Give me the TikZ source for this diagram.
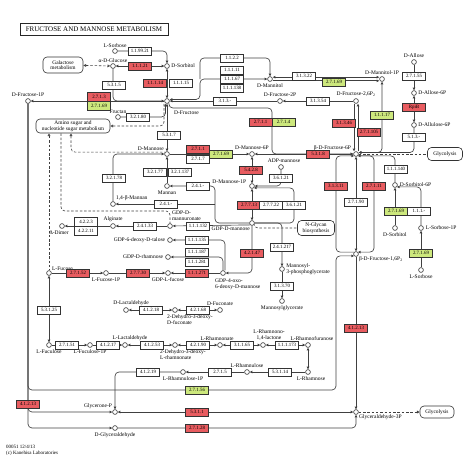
\documentclass[tikz,border=0pt]{standalone}
\usepackage{fontspec}
\setmainfont{Liberation Serif}
\usetikzlibrary{arrows.meta,positioning}
\definecolor{kred}{RGB}{232,92,96}
\definecolor{kgreen}{RGB}{205,232,125}
\pgfdeclarelayer{bg}
\pgfsetlayers{bg,main}
\tikzset{opn/.tip={Triangle[open,length=2.8pt,width=2.8pt]}}

\begin{document}
\begin{tikzpicture}[x=1pt,y=-1pt,
  >={Triangle[length=2.6pt,width=2.4pt]},
  cpd/.style={circle,draw=black!80,fill=white,line width=0.6pt,inner sep=0pt,minimum size=4.8pt},
  enz/.style={draw=black!80,fill=white,line width=0.5pt,inner sep=0pt,minimum width=23pt,minimum height=8.5pt,font=\fontsize{4.9}{5}\selectfont},
  enzr/.style={enz,fill=kred},
  enzg/.style={enz,fill=kgreen},
  lab/.style={inner sep=0pt,font=\fontsize{5.5}{5.9}\selectfont},
  mapbox/.style={draw=black!80,line width=0.6pt,rounded corners=4pt,fill=white,inner sep=1pt,align=center,font=\fontsize{5.4}{5.6}\selectfont},
  rxn/.style={draw=black!75,line width=0.65pt,rounded corners=4pt},
  lnk/.style={draw=black!75,line width=0.6pt,dash pattern=on 2.5pt off 1.8pt,rounded corners=4pt}]
\useasboundingbox (0,0) rectangle (474,459);

\node[draw=black!85,line width=0.9pt,minimum width=148pt,minimum height=12pt,inner sep=0pt,font=\fontsize{7}{7}\selectfont] (ttl) at (94,29) {FRUCTOSE AND MANNOSE METABOLISM};

% maps
\node[mapbox,minimum width=40pt,minimum height=16pt] (galmap) at (63,65) {Galactose\\metabolism};
\node[mapbox,minimum width=74pt,minimum height=14pt] (amino) at (73,126) {Amino sugar and\\nucleotide sugar metabolism};
\node[mapbox,minimum width=35pt,minimum height=13pt] (glyc1) at (445,154) {Glycolysis};
\node[mapbox,minimum width=37pt,minimum height=15pt] (nglyc) at (316,228) {N-Glycan\\biosynthesis};
\node[mapbox,minimum width=34pt,minimum height=12pt] (glyc2) at (437,412) {Glycolysis};

% compounds
\node[cpd] (lsor) at (115,51) {};
\node[cpd] (aglc) at (113,66) {};
\node[cpd] (sorb) at (167,66) {};
\node[cpd] (fru) at (167,101) {};
\node[cpd] (fru1p) at (28,101) {};
\node[cpd] (fructan) at (118,117) {};
\node[cpd] (mtl) at (270,79) {};
\node[cpd] (mtl1p) at (382,79) {};
\node[cpd] (fru2p) at (280,101) {};
\node[cpd] (fru26p) at (356,101) {};
\node[cpd] (allose) at (414,62) {};
\node[cpd] (allose6p) at (414,93) {};
\node[cpd] (allul6p) at (414,125) {};
\node[cpd] (f6p) at (356,154) {};
\node[cpd] (man) at (167,154) {};
\node[cpd] (man6p) at (252,154) {};
\node[cpd] (man1p) at (252,186) {};
\node[cpd] (adpman) at (281,167) {};
\node[cpd] (mannan) at (167,186) {};
\node[cpd] (bmannan) at (113,204) {};
\node[cpd] (gdpman) at (252,223) {};
\node[cpd] (gdpmanu) at (170,226) {};
\node[cpd] (alg) at (113,226) {};
\node[cpd] (dimer) at (62,226) {};
\node[cpd] (gdptal) at (170,240) {};
\node[cpd] (gdprha) at (168,257) {};
\node[cpd] (fuc) at (49,273) {};
\node[cpd] (fuc1p) at (106,273) {};
\node[cpd] (gdplfuc) at (168,273) {};
\node[cpd] (gdp4oxo) at (223,273) {};
\node[cpd] (m3pg) at (282,269) {};
\node[cpd] (mg) at (282,301) {};
\node[cpd] (lactd) at (126,310) {};
\node[cpd] (ddf) at (175,310) {};
\node[cpd] (dfuc) at (220,310) {};
\node[cpd] (fucl) at (49,345) {};
\node[cpd] (fucl1p) at (90,345) {};
\node[cpd] (lactl) at (125,345) {};
\node[cpd] (kdr) at (175,345) {};
\node[cpd] (rhn) at (220,345) {};
\node[cpd] (rhl) at (263,345) {};
\node[cpd] (rhf) at (308,345) {};
\node[cpd] (rha) at (308,372) {};
\node[cpd] (rhu) at (247,372) {};
\node[cpd] (rhu1p) at (183,372) {};
\node[cpd] (glyp) at (115,412) {};
\node[cpd] (dga) at (115,428) {};
\node[cpd] (ga3p) at (356,412) {};
\node[cpd] (f16p) at (356,254) {};
\node[cpd] (sorb6p) at (395,185) {};
\node[cpd] (dsorb) at (395,228) {};
\node[cpd] (lsor1p) at (421,228) {};
\node[cpd] (lsor2) at (421,270) {};

% compound names
\node[lab,above=1pt of lsor] (t_lsor) {L-Sorbose};
\node[lab,above=1pt of aglc] (t_aglc) {α-D-Glucose};
\node[lab,right=1.5pt of sorb] (t_sorb) {D-Sorbitol};
\node[lab,below right=8pt and 5pt of fru] (t_fru) {D-Fructose};
\node[lab,above=1.2pt of fru1p] (t_fru1p) {D-Fructose-1P};
\node[lab,above=1pt of fructan] (t_fructan) {Fructan};
\node[lab,below=1.5pt of mtl] (t_mtl) {D-Mannitol};
\node[lab,above=1.5pt of mtl1p] (t_mtl1p) {D-Mannitol-1P};
\node[lab,above=1.5pt of fru2p] (t_fru2p) {D-Fructose-2P};
\node[lab,above=1.5pt of fru26p] (t_fru26p) {D-Fructose-2,6P\textsubscript{2}};
\node[lab,above=1.2pt of allose] (t_allose) {D-Allose};
\node[lab,right=1.5pt of allose6p] (t_allose6p) {D-Allose-6P};
\node[lab,right=1.5pt of allul6p] (t_allul6p) {D-Allulose-6P};
\node[lab,above left=1.5pt and 3pt of f6p] (t_f6p) {β-D-Fructose-6P};
\node[lab,above left=1pt and 1pt of man] (t_man) {D-Mannose};
\node[lab,above=1.5pt of man6p] (t_man6p) {D-Mannose-6P};
\node[lab,left=3pt of man1p,yshift=4.5pt] (t_man1p) {D-Mannose-1P};
\node[lab,above=1.5pt of adpman,xshift=3pt] (t_adpman) {ADP-mannose};
\node[lab,below=1.5pt of mannan] (t_mannan) {Mannan};
\node[lab,above right=1pt and 1pt of bmannan] (t_bmannan) {1,4-β-Mannan};
\node[lab,below left=2pt and 0pt of gdpman] (t_gdpman) {GDP-D-mannose};
\node[lab,anchor=south west,align=left] (t_gdpmanu) at ([xshift=2pt,yshift=2.5pt]gdpmanu.north) {GDP-D-\\mannuronate};
\node[lab,above=1.2pt of alg] (t_alg) {Alginate};
\node[lab,below=1.5pt of dimer,xshift=-3pt] (t_dimer) {Δ-Dimer};
\node[lab,left=2pt of gdptal] (t_gdptal) {GDP-6-deoxy-D-talose};
\node[lab,left=2pt of gdprha] (t_gdprha) {GDP-D-rhamnose};
\node[lab,above right=0.5pt and 1pt of fuc] (t_fuc) {L-Fucose};
\node[lab,below=1.5pt of fuc1p] (t_fuc1p) {L-Fucose-1P};
\node[lab,below=1.5pt of gdplfuc] (t_gdplfuc) {GDP-L-fucose};
\node[lab,anchor=north west,align=left] (t_gdp4oxo) at ([xshift=-8pt,yshift=-3pt]gdp4oxo.south) {GDP-4-oxo-\\6-deoxy-D-mannose};
\node[lab,right=1.5pt of m3pg,align=left] (t_m3pg) {Mannosyl-\\3-phosphoglycerate};
\node[lab,below=1.5pt of mg] (t_mg) {Mannosylglycerate};
\node[lab,above=1.5pt of lactd,xshift=5pt] (t_lactd) {D-Lactaldehyde};
\node[lab,anchor=north west,align=left] (t_ddf) at ([xshift=-8pt,yshift=-2pt]ddf.south) {2-Dehydro-3-deoxy-\\D-fuconate};
\node[lab,above=1.5pt of dfuc] (t_dfuc) {D-Fuconate};
\node[lab,below=1.5pt of fucl] (t_fucl) {L-Fuculose};
\node[lab,below=1.5pt of fucl1p] (t_fucl1p) {L-Fuculose-1P};
\node[lab,above=1.5pt of lactl,xshift=5pt] (t_lactl) {L-Lactaldehyde};
\node[lab,anchor=north west,align=left] (t_kdr) at ([xshift=-15pt,yshift=-2pt]kdr.south) {2-Dehydro-3-deoxy-\\L-rhamnonate};
\node[lab,above=1.5pt of rhn,xshift=-3pt] (t_rhn) {L-Rhamnonate};
\node[lab,above=1.5pt of rhl,xshift=6pt,align=center] (t_rhl) {L-Rhamnono-\\1,4-lactone};
\node[lab,above=1.5pt of rhf,xshift=4pt] (t_rhf) {L-Rhamnofuranose};
\node[lab,below=1.5pt of rha,xshift=3pt] (t_rha) {L-Rhamnose};
\node[lab,above=1.5pt of rhu] (t_rhu) {L-Rhamnulose};
\node[lab,below=1.5pt of rhu1p] (t_rhu1p) {L-Rhamnulose-1P};
\node[lab,above left=1pt and 1pt of glyp] (t_glyp) {Glycerone-P};
\node[lab,below=1.5pt of dga] (t_dga) {D-Glyceraldehyde};
\node[lab,below right=1pt and 1pt of ga3p] (t_ga3p) {Glyceraldehyde-3P};
\node[lab,below right=1pt and 1pt of f16p] (t_f16p) {β-D-Fructose-1,6P\textsubscript{2}};
\node[lab,right=2pt of sorb6p] (t_sorb6p) {D-Sorbitol-6P};
\node[lab,below=1.5pt of dsorb] (t_dsorb) {D-Sorbitol};
\node[lab,right=2pt of lsor1p] (t_lsor1p) {L-Sorbose-1P};
\node[lab,below=1.5pt of lsor2] (t_lsor2) {L-Sorbose};

% enzymes
\node[enz] (e11921) at (140,51) {1.1.99.21};
\node[enzr] (e11121) at (140,66) {1.1.1.21};
\node[enzr] (e11114) at (155,83) {1.1.1.14};
\node[enz] (e11115) at (181,83) {1.1.1.15};
\node[enz] (e5315) at (114,85) {5.3.1.5};
\node[enzr] (e2713) at (99,96.5) {2.7.1.3};
\node[enzg] (e27169a) at (99,105.5) {2.7.1.69};
\node[enz] (e32180) at (138,117) {3.2.1.80};
\node[enz] (e1122) at (232,58) {1.1.2.2};
\node[enz] (e11111) at (232,70) {1.1.1.11};
\node[enz] (e11167) at (232,79) {1.1.1.67};
\node[enz] (e111138) at (232,88) {1.1.1.138};
\node[enz] (e313x) at (225,101) {3.1.3.-};
\node[enz] (e31322) at (304,76) {3.1.3.22};
\node[enzg] (e27169b) at (334,82) {2.7.1.69};
\node[enz] (e31354) at (318,101) {3.1.3.54};
\node[enz] (e27155) at (414,76) {2.7.1.55};
\node[enzr] (erpib) at (414,107) {RpiB};
\node[enz] (e513x) at (414,137) {5.1.3.-};
\node[enzg] (e11117) at (382,115) {1.1.1.17};
\node[enzr] (e31346) at (344,123) {3.1.3.46};
\node[enzr] (e271105) at (369,132) {2.7.1.105};
\node[enzr] (e2711a) at (260.5,122) {2.7.1.1};
\node[enzg] (e2714) at (283.5,122) {2.7.1.4};
\node[enz] (e5317) at (169,135) {5.3.1.7};
\node[enzr] (e2711b) at (198,149) {2.7.1.1};
\node[enz] (e2717) at (198,159) {2.7.1.7};
\node[enzg] (e27169c) at (221,154) {2.7.1.69};
\node[enzr] (e5318) at (318,154) {5.3.1.8};
\node[enzr] (e5428) at (251,170) {5.4.2.8};
\node[enz] (e36121a) at (281,178) {3.6.1.21};
\node[enz] (e32177) at (155,172) {3.2.1.77};
\node[enz] (e321137) at (180,172) {3.2.1.137};
\node[enz] (e32178) at (114,178) {3.2.1.78};
\node[enz] (e241xa) at (198,186) {2.4.1.-};
\node[enz] (e241xb) at (166,204) {2.4.1.-};
\node[enzr] (e27713) at (249,205) {2.7.7.13};
\node[enz] (e27722) at (271,205) {2.7.7.22};
\node[enz] (e36121b) at (294,205) {3.6.1.21};
\node[enz] (e111132) at (198,226) {1.1.1.132};
\node[enz] (e24133) at (145,226) {2.4.1.33};
\node[enz] (e4223) at (86,221.5) {4.2.2.3};
\node[enz] (e42211) at (86,230.5) {4.2.2.11};
\node[enz] (e111135) at (197,240) {1.1.1.135};
\node[enz] (e111187) at (197,252) {1.1.1.187};
\node[enz] (e111281) at (197,262) {1.1.1.281};
\node[enzr] (e42147) at (252,253) {4.2.1.47};
\node[enz] (e241217) at (282,247) {2.4.1.217};
\node[enz] (e31370) at (282,286) {3.1.3.70};
\node[enzr] (e27152) at (78,273) {2.7.1.52};
\node[enzr] (e27730) at (138,273) {2.7.7.30};
\node[enzr] (e111271) at (197,273) {1.1.1.271};
\node[enz] (e53125) at (49,310) {5.3.1.25};
\node[enz] (e41218) at (151,310) {4.1.2.18};
\node[enz] (e42168) at (198,310) {4.2.1.68};
\node[enz] (e27151) at (67,345) {2.7.1.51};
\node[enz] (e41217) at (108,345) {4.1.2.17};
\node[enz] (e41253) at (152,345) {4.1.2.53};
\node[enz] (e42190) at (198,345) {4.2.1.90};
\node[enz] (e31165) at (242,345) {3.1.1.65};
\node[enz] (e111173) at (287,345) {1.1.1.173};
\node[enz] (e2715) at (220,372) {2.7.1.5};
\node[enz] (e53114) at (280,372) {5.3.1.14};
\node[enz] (e41219) at (148,372) {4.1.2.19};
\node[enzg] (e27156) at (197,390) {2.7.1.56};
\node[enzr] (e5311) at (197,412) {5.3.1.1};
\node[enzr] (e27128) at (197,428) {2.7.1.28};
\node[enzr] (e41213a) at (28,404) {4.1.2.13};
\node[enzr] (e41213b) at (356,328) {4.1.2.13};
\node[enz] (e111140) at (396,169) {1.1.1.140};
\node[enzg] (e27169d) at (396,211) {2.7.1.69};
\node[enz] (e111x) at (419,211) {1.1.1.-};
\node[enzg] (e27169e) at (421,253) {2.7.1.69};
\node[enzr] (e31311) at (336,186) {3.1.3.11};
\node[enzr] (e27111) at (374,186) {2.7.1.11};
\node[enz] (e27190) at (356,202) {2.7.1.90};

\node[lab,anchor=west,font=\fontsize{5}{5}\selectfont] (ftr1) at (6,447) {00051 12/4/13};
\node[lab,anchor=west,font=\fontsize{5}{5}\selectfont] (ftr2) at (6,453) {(c) Kanehisa Laboratories};

\coordinate (jmt) at (200,79);
\coordinate (jhk) at (272,108);
\coordinate (jgm) at (215,204);
\coordinate (jmu) at (170,211);

\begin{pgfonlayer}{bg}
% glucose, sorbitol, fructose
\draw[rxn,->] (lsor) -| (sorb);
\draw[rxn,<->] (aglc) -- (sorb);
\draw[lnk,opn-opn] (galmap) -- (aglc);
\draw[rxn,<->] (sorb) -- (fru);
\draw[rxn,->] (aglc) |- (fru);
\draw[rxn,->] (fru) -- (fru1p);
\draw[rxn,->] (fructan) -| ([xshift=-1.5pt]fru.south);
\draw[lnk,opn-] (amino.east) -| ([xshift=-3pt]fru.south);
% mannitol
\draw[rxn,<->] ([yshift=1.5pt]fru.east) -| (jmt) -- (mtl);
\draw[rxn,->] (jmt) |- (e1122) -| (mtl);
\draw[rxn,<->] ([yshift=1.8pt]mtl.east) -- ([yshift=1.8pt]mtl1p.west);
\draw[rxn,->] ([yshift=-1.8pt]mtl.east) -- ([yshift=-1.8pt]mtl1p.west);
\draw[rxn,<->] (mtl1p) |- ([yshift=1.5pt]f6p.east);
% allose
\draw[rxn,->] (allose) -- (allose6p);
\draw[rxn,<->] (allose6p) -- (allul6p);
\draw[rxn,->] (allul6p) |- ([yshift=1.5pt]f6p.east);
% fructose-2,6P2
\draw[rxn,->] ([xshift=-2pt]fru26p.south) -- ([xshift=-2pt]f6p.north);
\draw[rxn,->] ([xshift=2pt]f6p.north) -- ([xshift=2pt]fru26p.south);
\draw[rxn,->] (fru26p) -- (fru2p);
\draw[rxn,->] (fru2p) -- (fru);
\draw[rxn,->] (fru.south east) |- (jhk) |- (f6p);
% mannose
\draw[rxn,<->] (fru) -- (man);
\draw[rxn,->] (man) -- (man6p);
\draw[rxn,<->] (man6p) -- (f6p);
\draw[rxn,<->] (man6p) -- (man1p);
\draw[rxn,->] (adpman) |- (man1p);
\draw[rxn,->] (mannan) -- (man);
\draw[rxn,->] (bmannan) |- (man);
\draw[rxn,->] (gdpman) -| (jgm) |- (mannan);
\draw[rxn,->] (jgm) -- (bmannan);
\draw[rxn,<->] (man1p) -- (gdpman);
\draw[rxn,->] (gdpman) -| (e36121b) |- (man1p.south east);
\draw[rxn,->] (gdpman.south west) -- (gdpmanu);
\draw[rxn,->] (gdpmanu) -- (alg);
\draw[rxn,->] (alg) -- (dimer);
\draw[rxn,->] (gdpman) -| (m3pg);
\draw[rxn,->] (m3pg) -- (mg);
\draw[lnk] (gdpman.south east) |- (nglyc.west);
\draw[lnk,opn-] ([xshift=-2pt]amino.south) |- (man.north west);
\draw[lnk] ([xshift=-12pt]amino.south) |- (jmu) -- (gdpmanu);
\draw[lnk,opn-] ([xshift=-24pt]amino.south) -- (fuc);
% GDP sugars, fucose, rhamnose
\draw[rxn,->] (gdpman) |- (gdp4oxo);
\draw[rxn,->] (gdp4oxo) |- (gdprha);
\draw[rxn,->] ([xshift=2pt]gdp4oxo.north) |- (gdptal);
\draw[rxn,->] (gdp4oxo) -- (gdplfuc);
\draw[rxn,->] (fuc1p) -- (gdplfuc);
\draw[rxn,->] (fuc) -- (fuc1p);
\draw[rxn,<->] (fuc) -- (fucl);
\draw[rxn,->] (fucl) -- (fucl1p);
\draw[rxn,->] (fucl1p) -- (lactl);
\draw[rxn,<->] (kdr) -- (lactl);
\draw[rxn,<->] (rhn) -- (kdr);
\draw[rxn,<->] (rhl) -- (rhn);
\draw[rxn,<->] (rhf) -- (rhl);
\draw[rxn,<->] (rhf) -- (rha);
\draw[rxn,->] (rha) -- (rhu);
\draw[rxn,->] (rhu) -- (rhu1p);
\draw[rxn,->] (rhu1p) -| (glyp);
\draw[rxn,<->] (lactd) -- (ddf);
\draw[rxn,<->] (ddf) -- (dfuc);
% glycolysis side
\draw[rxn,->] (fru1p) |- (e31311 |- e27156) |- (f16p.south west);
\draw[rxn,->] (fru1p) |- (glyp);
\draw[rxn,->] (fru1p) |- (dga);
\draw[rxn,<->] (glyp) -- (ga3p);
\draw[rxn,->] (dga) -| (ga3p);
\draw[rxn,->] (f16p) -- (ga3p);
\draw[lnk,-opn] (ga3p) -- (glyc2);
\draw[lnk] (f6p) -- (glyc1);
\draw[rxn,<->] (f6p) -- (f16p);
\draw[rxn,->] (f16p.north west) -| (e31311) |- (f6p.south west);
\draw[rxn,->] (f6p.south east) -| (e27111) |- (f16p.north east);
\draw[rxn,->] (sorb6p) |- (f6p.south east);
\draw[rxn,->] (dsorb) -- (sorb6p);
\draw[rxn,->] (lsor1p) |- (sorb6p.south east);
\draw[rxn,->] (lsor2) -- (lsor1p);
\end{pgfonlayer}
\end{tikzpicture}
\end{document}
